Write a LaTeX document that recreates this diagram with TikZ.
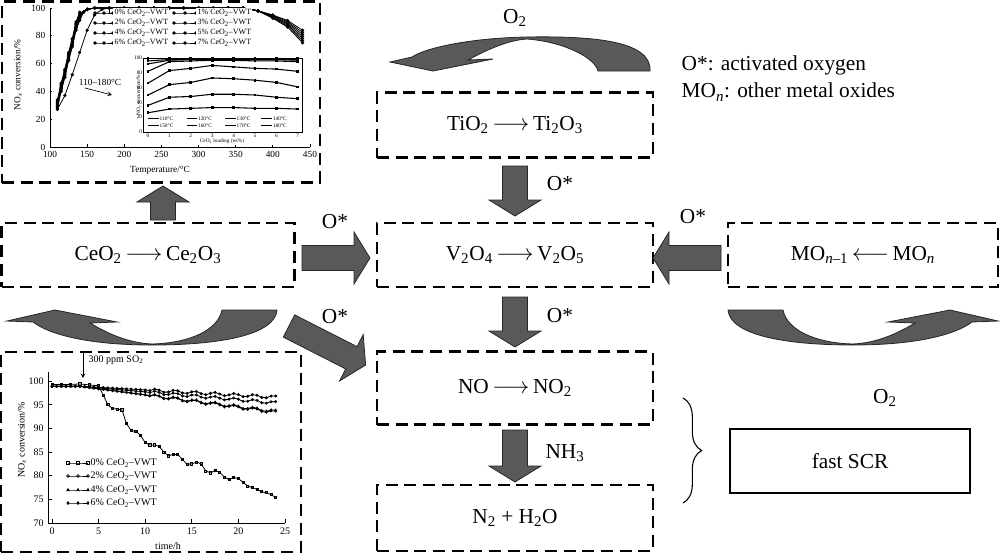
\documentclass[tikz,border=0pt]{standalone}
\usepackage{fontspec}
\setmainfont{Liberation Serif}
\usetikzlibrary{decorations.pathreplacing,plotmarks}

\tikzset{
  box/.style={draw,line width=1.6pt,dash pattern=on 9pt off 5pt,inner sep=0},
  lbl/.style={font=\fontsize{16}{18}\selectfont},
  barr/.style={fill=black!65,draw=black!85,line width=0.6pt},
  ax/.style={line width=0.5pt},
  crv/.style={line width=0.6pt,mark size=0.9pt,mark options={solid}},
  icrv/.style={line width=0.8pt,mark=square*,mark size=0.6pt},
}
\newcommand\barrow[4]{%
  \begin{scope}[shift={(#1,#2)},rotate=#3]
    \filldraw[barr] (0,-12.5) -- ({#4-16},-12.5) -- ({#4-16},-26) -- (#4,0)
      -- ({#4-16},26) -- ({#4-16},12.5) -- (0,12.5) -- cycle;
  \end{scope}}
\newcommand\crescent{%
  (277,310) .. controls (275,335) and (220,345) .. (152,345) .. controls (90,345) and (50,335) .. (33,322)
  -- (7,321) -- (55,310) -- (117,322) -- (90,323) .. controls (110,335) and (130,343) .. (152,344)
  .. controls (190,343) and (218,330) .. (222,310) -- cycle}
\newcommand\ra{\,$\longrightarrow$\,}
\newcommand\sbs[1]{\textsubscript{#1}}

\begin{document}
\begin{tikzpicture}[x=0.75pt,y=-0.75pt]
\useasboundingbox (0,0) rectangle (1000,554);

% boxes
\node[box,minimum width=276*0.75pt,minimum height=65*0.75pt,lbl] (ti) at (515,125) {TiO\sbs{2}\ra Ti\sbs{2}O\sbs{3}};
\node[box,minimum width=276*0.75pt,minimum height=64*0.75pt,lbl] (v) at (515,255) {V\sbs{2}O\sbs{4}\ra V\sbs{2}O\sbs{5}};
\node[box,minimum width=293*0.75pt,minimum height=64*0.75pt,lbl] (ce) at (148,255) {CeO\sbs{2}\ra Ce\sbs{2}O\sbs{3}};
\node[box,minimum width=270*0.75pt,minimum height=64*0.75pt,lbl] (mo) at (863,255) {MO\sbs{\textit{n}--1}\,$\longleftarrow$\,MO\sbs{\textit{n}}};
\node[box,minimum width=276*0.75pt,minimum height=73*0.75pt,lbl] (no) at (515,388) {NO\ra NO\sbs{2}};
\node[box,minimum width=276*0.75pt,minimum height=66*0.75pt,lbl] (n2) at (515,518) {N\sbs{2} + H\sbs{2}O};
\node[draw,line width=1.6pt,minimum width=240*0.75pt,minimum height=64*0.75pt,lbl] (scr) at (850,461) {fast SCR};
\node[box,minimum width=318*0.75pt,minimum height=181*0.75pt] (c1) at (161,92) {};
\node[box,minimum width=300*0.75pt,minimum height=200*0.75pt] (c2) at (151,452) {};

% block arrows
\barrow{163}{220}{90}{34}
\barrow{515}{166}{-90}{50}
\barrow{302}{258}{0}{68}
\barrow{721}{258}{180}{68}
\barrow{515}{297}{-90}{50}
\barrow{515}{430}{-90}{52}
\barrow{289}{326}{-27}{86}

% curved arrows
\filldraw[barr] (650,71) .. controls (652,40) and (590,36) .. (527,37) .. controls (470,38) and (425,48) .. (412,57)
  -- (390,62) -- (433,71) -- (493,59) -- (468,60) .. controls (490,48) and (510,40) .. (527,39)
  .. controls (565,42) and (595,58) .. (598,71) -- cycle;
\filldraw[barr] \crescent;
\begin{scope}[shift={(1005,0)},xscale=-1]
  \filldraw[barr] \crescent;
\end{scope}

% labels
\node[lbl] (lo2a) at (515,18) {O\sbs{2}};
\node[lbl] (lo2b) at (885,398) {O\sbs{2}};
\node[lbl] (la) at (560,184) {O*};
\node[lbl] (lb) at (335,222) {O*};
\node[lbl] (lc) at (693,217) {O*};
\node[lbl] (ld) at (560,316) {O*};
\node[lbl] (le) at (335,317) {O*};
\node[lbl] (lf) at (565,453) {NH\sbs{3}};
\node[lbl,anchor=west] (k1) at (677,65) {O*: activated oxygen};
\node[lbl,anchor=west] (k2) at (677,92) {MO\sbs{\textit{n}}: other metal oxides};

% brace
\draw[line width=0.8pt,decoration={brace,amplitude=14pt},decorate] (683,398) -- (683,503);

% ---------- top chart ----------
\begin{scope}[font=\fontsize{7}{8}\selectfont]
\begin{scope}[shift={(50,147)},x=0.557pt,y=1.0425pt]
  \draw[ax] (0,100) -- (0,0) -- (350,0);
  \foreach \t in {0,50,...,350} {
    \draw[ax] (\t,0) -- (\t,2);
    \pgfmathtruncatemacro\tl{\t+100}
    \node[below] at (\t,0) {\tl};
  }
  \foreach \v in {0,20,...,100} {
    \draw[ax] (0,\v) -- (3,\v);
    \node[left] at (0,\v) {\v};
  }
  \foreach \k in {0,...,6} {
    \draw[crv,mark=*] plot coordinates {(10,{28+\k}) (15,{40+\k}) (20,{50+\k}) (25,{62+\k}) (30,{72+\k}) (35,{84+\k}) (40,{91+\k}) (45,97) (50,99) (60,100) (80,100) (100,100) (120,100) (140,100) (160,100) (180,100) (200,100) (220,100) (240,100) (260,100) (280,98) (300,{95-0.4*\k}) (320,{91-0.8*\k}) (340,{84-1.5*\k})};
  }
  \draw[crv,mark=*] plot coordinates {(10,27) (20,37) (30,52) (40,68) (50,84) (60,95) (70,99) (80,100)};
  \draw[ax] (80,100) -- (80,96);
\end{scope}
\node[rotate=90] at (18,75) {NO\sbs{\textit{x}} conversion/\%};
\node at (160,170) {Temperature/°C};
\node at (100,82) {110--180°C};
\draw[ax,-stealth] (85,88) -- (112,95);
% legend
\begin{scope}[font=\fontsize{6}{7}\selectfont]
\foreach \y/\a/\b in {13/0/1,23/2/3,33/4/5,43/6/7} {
  \draw[crv,mark=*] plot coordinates {(95,\y) (104,\y) (113,\y)};
  \node[anchor=west,inner sep=1pt,fill=white] at (113,\y) {\a\% CeO\sbs{2}--VWT};
  \draw[crv,mark=*] plot coordinates {(174,\y) (185,\y) (196,\y)};
  \node[anchor=west,inner sep=1pt,fill=white] at (196,\y) {\b\% CeO\sbs{2}--VWT};
}
\end{scope}
% inset
\begin{scope}[font=\fontsize{4}{5}\selectfont]
\fill[white] (135,56) rectangle (300,145);
\begin{scope}[shift={(148,132)},x=16.05pt,y=0.555pt]
  \draw[ax] (-0.2,0) rectangle (7.2,100);
  \foreach \x in {0,...,7} \node[below,inner sep=1pt] at (\x,0) {\x};
  \foreach \v in {0,20,...,100} \node[left,inner sep=1pt] at (-0.2,\v) {\v};
  \draw[icrv] plot coordinates {(0,26) (1,31) (2,32) (3,33) (4,33) (5,32) (6,32) (7,31)};
  \draw[icrv] plot coordinates {(0,36) (1,47) (2,48) (3,51) (4,51) (5,50) (6,47) (7,45)};
  \draw[icrv] plot coordinates {(0,50) (1,64) (2,67) (3,73) (4,72) (5,70) (6,67) (7,61)};
  \draw[icrv] plot coordinates {(0,66) (1,83) (2,86) (3,90) (4,88) (5,86) (6,85) (7,82)};
  \draw[icrv] plot coordinates {(0,82) (1,95) (2,96) (3,97) (4,97) (5,96) (6,96) (7,95)};
  \draw[icrv] plot coordinates {(0,92) (1,97) (2,98) (3,98) (4,98) (5,98) (6,98) (7,97)};
  \draw[icrv] plot coordinates {(0,96) (1,98) (2,98) (3,98) (4,98) (5,98) (6,98) (7,98)};
  \draw[icrv] plot coordinates {(0,99) (1,99) (2,99) (3,99) (4,99) (5,99) (6,99) (7,99)};
  \foreach \x/\y/\t in {0.3/18/110,2.1/18/120,3.9/18/130,5.6/18/140,0.3/9/150,2.1/9/160,3.9/9/170,5.6/9/180}
    {\draw[line width=0.8pt] (\x-0.3,\y) -- (\x+0.2,\y);
     \node[anchor=west,inner sep=0.5pt] at (\x+0.2,\y) {\t°C};}
\end{scope}
\node[rotate=90] at (139,95) {NO\sbs{\textit{x}} conversion/\%};
\node at (222,141) {CeO\sbs{2} loading (wt\%)};
\end{scope}
\end{scope}

% ---------- bottom chart ----------
\begin{scope}[font=\fontsize{7.5}{8.5}\selectfont]
\begin{scope}[shift={(52,523)},x=6.99pt,y=3.5475pt]
  \draw[ax] (-0.4,32) -- (-0.4,0) -- (25,0);
  \foreach \t in {0,5,...,25} {
    \draw[ax] (\t,0) -- (\t,0.8);
    \node[below] at (\t,0) {\t};
  }
  \foreach \v in {0,5,...,30} {
    \draw[ax] (-0.4,\v) -- (0,\v);
    \pgfmathtruncatemacro\vl{\v+70}
    \node[left] at (-0.4,\v) {\vl};
  }
  \foreach \e/\m in {26.6/*,25.4/o,23.6/triangle*,23.4/diamond*} {
    \draw[crv,mark=\m,mark size=0.8pt] plot[domain=0:24,samples=49]
      (\x,{28.9-(28.9-\e)*max(0,\x-3)/21+0.3*sin(170*\x)*(\x>10)});
  }
  \draw[crv,mark=square,mark size=0.8pt] plot coordinates {(0,29.3) (1,29.3) (2,29.3) (3,29.4) (4,29.2) (5,29) (5.5,27) (6,25) (6.5,24.2) (7,24.1) (7.5,23.9) (8,21) (8.5,19.5) (9,19.4) (9.5,18.5) (10,17) (10.5,16.5) (11,16.5) (11.5,16.2) (12,15) (12.5,14.2) (13,14.5) (13.5,14.5) (14,13.4) (14.5,12.4) (15,12.5) (15.5,12.9) (16,12.5) (16.5,11) (17,10.6) (17.5,11.1) (18,10.7) (18.5,9.7) (19,9.2) (19.5,9.6) (20,9.4) (20.5,8.6) (21,7.8) (21.5,7.5) (22,7.1) (22.5,6.6) (23,6.4) (23.5,6) (24,5.4)};
\end{scope}
\draw[ax,-stealth] (83,351) -- (83,378);
\node[anchor=west] at (84,360) {300 ppm SO\sbs{2}};
\node at (168,546) {time/h};
\node[rotate=90] at (22,440) {NO\sbs{\textit{x}} conversion/\%};
\foreach \y/\a/\m in {463/0/square,476/2/o,490/4/triangle*,503/6/diamond*} {
  \draw[crv,mark=\m,mark size=1pt] plot coordinates {(68,\y) (78,\y) (88,\y)};
  \node[anchor=west,inner sep=1pt] at (89,\y) {\a\% CeO\sbs{2}--VWT};
}
\end{scope}
\end{tikzpicture}
\end{document}
